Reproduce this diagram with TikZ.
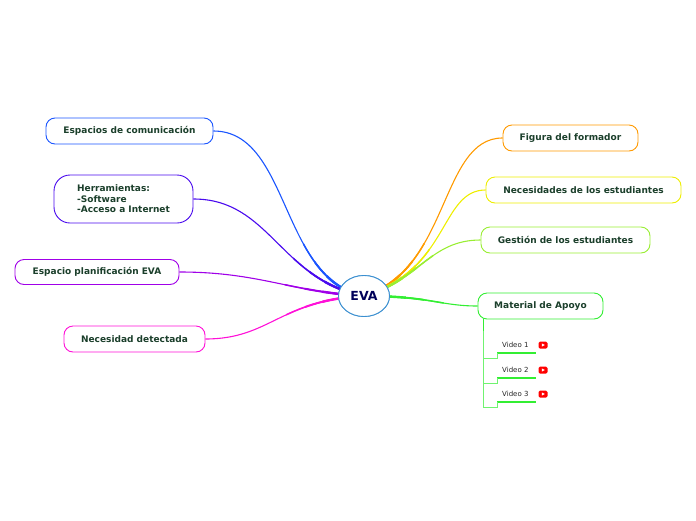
\documentclass[tikz,border=0pt]{standalone}
\usepackage{fontspec}
\setmainfont{DejaVu Sans}
\usetikzlibrary{shapes.geometric}
\definecolor{txt}{HTML}{1B3F2B}
\definecolor{cA}{HTML}{1A55FF}
\definecolor{cB}{HTML}{4A0AEE}
\definecolor{cC}{HTML}{A000E8}
\definecolor{cD}{HTML}{FF10D8}
\definecolor{cE}{HTML}{FF9A00}
\definecolor{cF}{HTML}{EEEE00}
\definecolor{cG}{HTML}{99EE33}
\definecolor{cH}{HTML}{33EE33}
\definecolor{cEva}{HTML}{3A8FD0}
\tikzset{x=1pt,y=-1pt,
 topic/.style={draw=#1,rounded corners=9pt,line width=0.9pt,fill=white,font=\bfseries\fontsize{9}{10.5}\selectfont,text=txt,inner sep=0pt},
 evan/.style={ellipse,draw=cEva,line width=0.9pt,fill=white,minimum width=51pt,minimum height=41pt,inner sep=0pt,font=\bfseries\fontsize{12.5}{14}\selectfont,text=blue!35!black},
 vid/.style={font=\fontsize{7}{8}\selectfont,text=black!85,inner sep=0pt,anchor=west},
 yt/.style={fill=red,rounded corners=1.5pt,minimum width=9pt,minimum height=7pt,inner sep=0pt}}
\newcommand\taper[4]{%
 \draw[#1,line width=1.1pt] #2 .. controls #3 .. (eva.center);
 \foreach \r/\w in {80/1.5,60/1.9,42/2.4}{
 \begin{scope}\clip (364,296) circle (\r pt);
 \draw[#1,line width=\w pt] #2 .. controls #3 .. (eva.center);
 \end{scope}}}
\begin{document}
\begin{tikzpicture}
\useasboundingbox (0,0) rectangle (696,520);
\node[evan] (eva) at (364,296) {EVA};
\node[topic=cA,minimum width=167pt,minimum height=26pt] (a) at (129.5,131) {Espacios de comunicación};
\node[topic=cB,minimum width=139pt,minimum height=48pt,rounded corners=16pt,align=left] (b) at (123.5,199) {Herramientas:\\-Software\\-Acceso a Internet};
\node[topic=cC,minimum width=164pt,minimum height=25pt] (c) at (97,272) {Espacio planificación EVA};
\node[topic=cD,minimum width=141pt,minimum height=26pt] (d) at (134.5,339) {Necesidad detectada};
\node[topic=cE,minimum width=135pt,minimum height=26pt] (e) at (570.5,138) {Figura del formador};
\node[topic=cF,minimum width=195pt,minimum height=26pt] (f) at (583.5,190) {Necesidades de los estudiantes};
\node[topic=cG,minimum width=169pt,minimum height=26pt] (g) at (565.5,240) {Gestión de los estudiantes};
\node[topic=cH,minimum width=125pt,minimum height=26pt] (h) at (540.5,306) {Material de Apoyo};
\taper{cA}{(a.east)}{(290,131) and (280,280)}{}
\taper{cB}{(b.east)}{(270,199) and (280,280)}{}
\taper{cC}{(c.east)}{(260,272) and (290,292)}{}
\taper{cD}{(d.east)}{(270,339) and (280,300)}{}
\taper{cE}{(e.west)}{(440,138) and (450,270)}{}
\taper{cF}{(f.west)}{(440,190) and (450,270)}{}
\taper{cG}{(g.west)}{(430,240) and (420,280)}{}
\taper{cH}{(h.west)}{(440,306) and (430,296)}{}
\node[evan] at (364,296) {EVA};
\coordinate (br) at (483,319);
\foreach \i/\y in {1/345,2/370,3/394}{
 \node[vid] (v\i) at (502,\y) {Video \i};
 \node[yt] (y\i) at (543,\y) {};
 \fill[white] ([xshift=-1.2pt,yshift=-1.6pt]y\i.center) -- ([xshift=-1.2pt,yshift=1.6pt]y\i.center) -- ([xshift=1.8pt]y\i.center) -- cycle;
 \coordinate (u\i) at (497,\y+8);
 \draw[cH,line width=1.4pt] (u\i) -- ++(39,0);
 \draw[cH!70,line width=0.5pt] (br) |- ([yshift=-5pt]u\i) -- (u\i);
}
\draw[cH,line width=1pt] (br) -- ++(0,12);
\end{tikzpicture}
\end{document}
